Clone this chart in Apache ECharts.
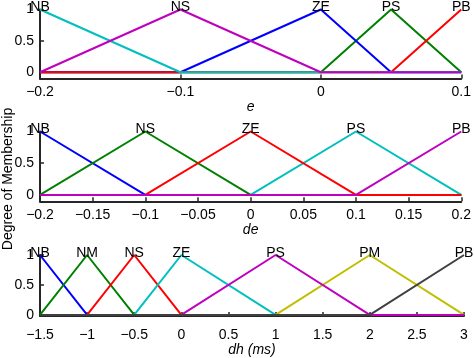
<!DOCTYPE html>
<html><head><meta charset="utf-8">
<script src="https://cdn.jsdelivr.net/npm/echarts@6/dist/echarts.min.js"></script>
<style>html,body{margin:0;padding:0;background:#fff}#c{width:474px;height:358px}</style>
</head><body><div id="c"></div>
<script>
// ---- data: triangular membership functions [a, b(peak), c] ----
const eRange = [-0.2, 0.1];
const eNames = ['NB', 'NS', 'ZE', 'PS', 'PB'];
const eParams = [[-0.2, -0.2, -0.1], [-0.2, -0.1, 0], [-0.1, 0, 0.05], [0, 0.05, 0.1], [0.05, 0.1, 0.1]];
const eColors = ['#00bfbf', '#bf00bf', '#0000ff', '#008000', '#ff0000'];
const eOrder = [3, 2, 4, 0, 1];

const deRange = [-0.2, 0.2];
const deNames = ['NB', 'NS', 'ZE', 'PS', 'PB'];
const deParams = [[-0.2, -0.2, -0.1], [-0.2, -0.1, 0], [-0.1, 0, 0.1], [0, 0.1, 0.2], [0.1, 0.2, 0.2]];
const deColors = ['#0000ff', '#008000', '#ff0000', '#00bfbf', '#bf00bf'];
const deOrder = [0, 1, 3, 2, 4];

const dhRange = [-1.5, 3];
const dhNames = ['NB', 'NM', 'NS', 'ZE', 'PS', 'PM', 'PB'];
const dhParams = [[-1.5, -1.5, -1], [-1.5, -1, -0.5], [-1, -0.5, 0], [-0.5, 0, 1], [0, 1, 2], [1, 2, 3], [2, 3, 3]];
const dhColors = ['#0000ff', '#008000', '#ff0000', '#00bfbf', '#bf00bf', '#bfbf00', '#404040'];
const dhOrder = [0, 1, 2, 3, 5, 4, 6];

const xIntervals = [0.1, 0.05, 0.5];
const axisNames = ['e', 'de', 'dh (ms)'];
const yTicks = [0, 0.5, 1];
const yLabel = 'Degree of Membership';

// ---- build ----
const FONT = 'Liberation Sans, Arial, Helvetica, sans-serif';
function fmt(v) {
  const s = String(Math.round(v * 1000) / 1000);
  return s.replace('-', '\u2212');
}
function mfPoints(p, range, name) {
  const [a, b, c] = p;
  const pts = [];
  if (a > range[0]) pts.push([range[0], 0]);
  if (a < b) pts.push([a, 0]);
  pts.push({ value: [b, 1], label: { show: true, formatter: name, position: 'top', distance: -5,
    fontSize: 14, fontFamily: FONT, color: '#000' } });
  if (c > b) pts.push([c, 0]);
  if (c < range[1]) pts.push([range[1], 0]);
  return pts;
}
const plots = [
  { range: eRange, names: eNames, params: eParams, colors: eColors, order: eOrder,
    grid: { left: 40, width: 424, top: 9.5, height: 69 }, ymin: -0.1, lm: 7, ng: 21 },
  { range: deRange, names: deNames, params: deParams, colors: deColors, order: deOrder,
    grid: { left: 40, width: 424, top: 131.5, height: 69.8 }, ymin: -0.1, lm: 7, ng: 22 },
  { range: dhRange, names: dhNames, params: dhParams, colors: dhColors, order: dhOrder,
    grid: { left: 40, width: 424, top: 255, height: 65.3 }, ymin: -0.02, lm: 12, ng: 24 }
];
const grid = [], xAxis = [], yAxis = [], series = [];
const axisCol = '#262626';
plots.forEach((pl, i) => {
  grid.push(pl.grid);
  xAxis.push({
    type: 'value', gridIndex: i, min: pl.range[0], max: pl.range[1], interval: xIntervals[i],
    name: axisNames[i], nameLocation: 'middle', nameGap: pl.ng,
    nameTextStyle: { fontStyle: 'italic', fontSize: 14, fontFamily: FONT, color: '#000' },
    axisLine: { show: true, onZero: false, lineStyle: { color: axisCol, width: 2 } },
    axisTick: { show: true, inside: true, length: 4, lineStyle: { color: axisCol, width: 1.5 } },
    axisLabel: { margin: pl.lm, fontSize: 14, fontFamily: FONT, color: '#000', formatter: fmt, hideOverlap: false },
    splitLine: { show: false }
  });
  yAxis.push({
    type: 'value', gridIndex: i, min: pl.ymin, max: 1,
    axisLine: { show: true, onZero: false, lineStyle: { color: axisCol, width: 2 } },
    axisTick: { show: true, inside: true, length: 4, customValues: yTicks, lineStyle: { color: axisCol, width: 1.5 } },
    axisLabel: { margin: 6, fontSize: 14, fontFamily: FONT, color: '#000', customValues: yTicks, formatter: fmt },
    splitLine: { show: false }
  });
  pl.order.forEach(k => {
    series.push({
      type: 'line', xAxisIndex: i, yAxisIndex: i, clip: false, symbol: 'circle', symbolSize: 0.01,
      showSymbol: true, animation: false,
      lineStyle: { color: pl.colors[k], width: 2 }, itemStyle: { color: pl.colors[k] },
      labelLayout: { hideOverlap: false },
      data: mfPoints(pl.params[k], pl.range, pl.names[k])
    });
  });
});
const chart = echarts.init(document.getElementById('c'), null, { renderer: 'canvas' });
chart.setOption({
  animation: false, backgroundColor: '#fff',
  grid, xAxis, yAxis, series,
  graphic: [{ type: 'text', x: 8, y: 179, rotation: Math.PI / 2,
    style: { text: yLabel, fontSize: 14, fontFamily: FONT, fill: '#000', textAlign: 'center', textVerticalAlign: 'middle' } }]
});
</script></body></html>
